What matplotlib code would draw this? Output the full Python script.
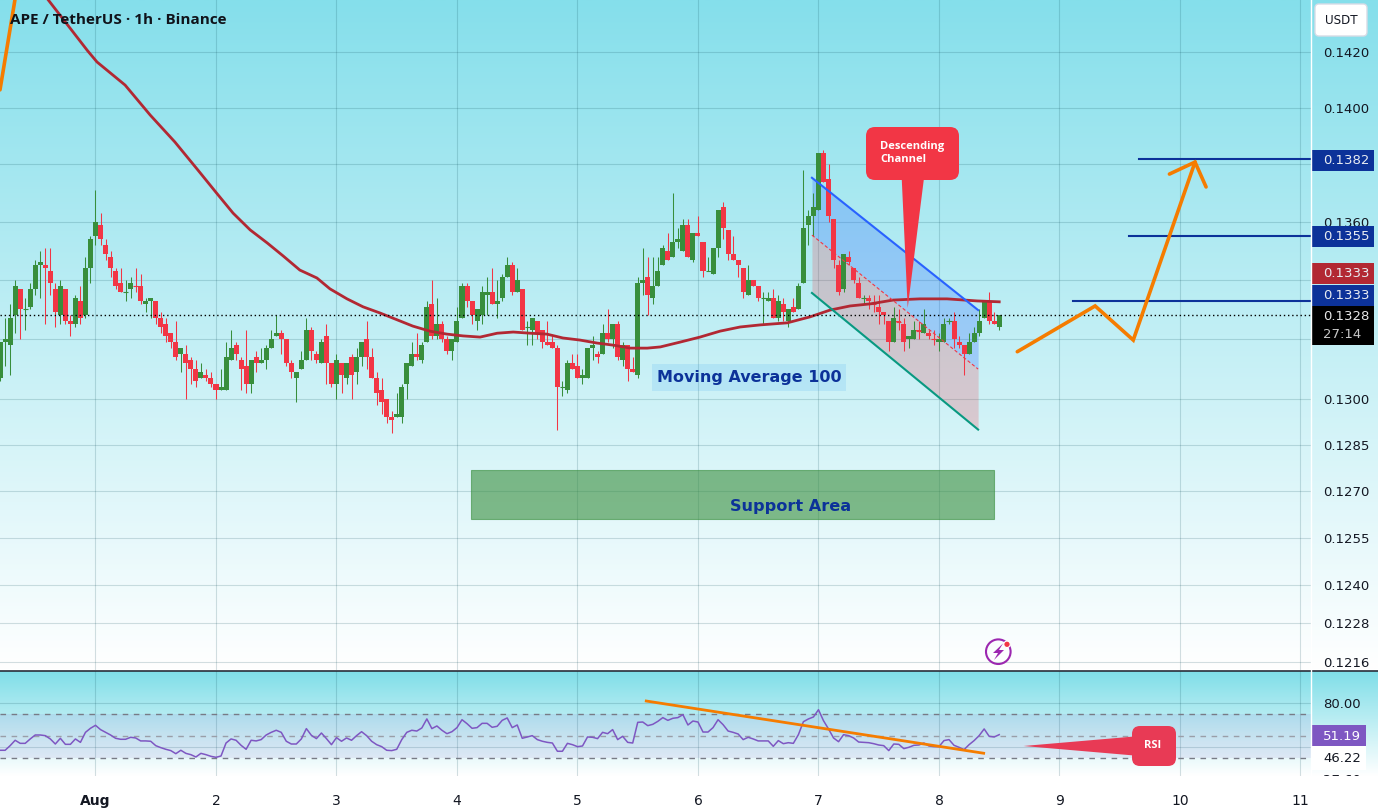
import numpy as np
import matplotlib
matplotlib.use('Agg')
import matplotlib.pyplot as plt
from matplotlib.patches import FancyBboxPatch, Rectangle, Polygon, Circle
from matplotlib.ticker import NullLocator

W, H = 1378, 811
PT = 1e-4  # candle prices below are in ticks of 0.0001

# one candle per hour, hour 0 = Aug 1 00:00
first_hour = -19
opens = [1307,1319,1318,1328,1337,1330,1331,1337,1345,1345,
         1343,1337,1328,1337,1326,1325,1333,1328,1344,1355,
         1359,1352,1348,1343,1339,1336,1337,1338,1338,1332,
         1333,1333,1327,1325,1322,1319,1315,1315,1313,1310,
         1307,1308,1307,1305,1303,1303,1313,1318,1313,1311,
         1305,1314,1312,1313,1317,1321,1322,1320,1312,1307,
         1310,1313,1323,1315,1312,1321,1312,1305,1312,1307,
         1314,1309,1314,1320,1314,1307,1303,1300,1294,1294,
         1294,1305,1311,1315,1313,1319,1332,1321,1325,1320,
         1316,1319,1327,1338,1333,1326,1328,1335,1336,1332,
         1334,1341,1345,1336,1337,1324,1323,1326,1323,1319,
         1319,1317,1304,1303,1312,1311,1307,1307,1317,1315,
         1315,1322,1320,1325,1313,1318,1310,1308,1339,1341,
         1334,1338,1345,1350,1348,1353,1350,1359,1347,1356,
         1353,1343,1342,1351,1365,1357,1349,1347,1344,1335,
         1340,1338,1334,1333,1334,1327,1332,1326,1331,1330,
         1339,1359,1362,1364,1384,1375,1361,1345,1337,1348,
         1344,1339,1334,1334,1332,1331,1329,1326,1319,1326,
         1325,1320,1320,1323,1322,1322,1320,1319,1319,1326,
         1326,1319,1318,1315,1319,1322,1327,1333,1326,1324]
closes = [1319,1320,1327,1338,1330,1330,1337,1345,1346,1344,
          1339,1329,1338,1326,1325,1334,1327,1344,1354,1360,
          1354,1349,1344,1338,1336,1336,1339,1337.9,1333,1333,
          1334,1327,1324,1321,1319,1314,1317,1312,1310,1306,
          1309,1307,1305,1303,1304,1314,1317,1315,1310,1305,
          1313,1312,1313,1317,1320,1322,1320,1312,1309,1309,
          1313,1323,1316,1313,1319,1312,1305,1313,1308,1312,
          1308,1314,1319,1314,1307,1302,1299,1294,1293,1295,
          1304,1312,1315,1314,1318,1331,1321,1325,1320,1316,
          1320,1326,1338,1333,1328,1330,1336,1336,1332,1333,
          1341,1345,1336,1340,1323,1324,1327,1322,1319,1318,
          1317,1304,1304,1312,1310,1307,1308,1317,1318,1314,
          1322,1320,1325,1314,1318,1310,1309,1339,1340,1335,
          1338,1343,1351,1347,1353,1354,1359,1348,1356,1355,
          1343,1343,1351,1364,1358,1349,1347,1345,1336,1340,
          1338,1334,1334,1334,1327,1333,1329,1330,1329,1338,
          1358,1362,1365,1384,1374,1362,1347,1336,1349,1346,
          1340,1334,1334,1333,1331.9,1329,1328,1319,1327,1325.9,
          1319,1321,1323,1322.9,1325,1321,1319.9,1320,1325,1326,
          1320,1318,1315,1319,1322,1326,1333,1326,1325,1328]
highs = [1319,1327,1332,1340,1337,1334,1339,1347,1350,1351,
         1351,1339,1340,1337,1328,1335,1338,1348,1355,1371,
         1363,1354,1350,1344,1344,1340,1341,1344,1342,1334,
         1334,1333,1329,1327,1322,1326,1317,1318,1314,1313,
         1312,1310,1309,1305,1310,1319,1323,1319,1314,1323,
         1313,1316,1317,1318,1323,1328,1323,1320,1313,1309,
         1316,1327,1324,1316,1320,1325,1312,1315,1312,1312,
         1315,1317,1319,1326,1317,1309,1307,1300,1296,1302,
         1305,1312,1319,1322,1319,1333,1340,1334,1326,1321,
         1320,1331,1339,1339,1333,1330,1338,1341,1344,1340,
         1342,1348,1346,1344,1337,1326,1327,1326,1323,1326,
         1321,1318,1306,1313,1315,1315,1310,1317,1321,1316,
         1325,1330,1325,1326,1319,1318,1314,1341,1351,1348,
         1348,1348,1352,1356,1370,1358,1361,1361,1356,1362,
         1353,1348,1351,1364,1367,1357,1355,1347,1344,1345,
         1340,1338,1336,1336,1337,1335,1334,1330,1334,1339,
         1378,1364,1370,1384,1385,1380,1361,1347,1349,1350,
         1344,1341,1335,1335,1335,1335,1329,1326,1331,1330,
         1327,1321,1326,1326,1330,1323,1323,1322,1327,1327,
         1329,1321,1318,1322,1324,1330,1333,1336,1329,1328]
lows = [1306,1311,1308,1322,1320,1323,1330,1335,1334,1325,
        1335,1324,1325,1325,1321,1324,1325,1327,1339,1352,
        1352,1347,1341,1337,1336,1333,1334,1336,1332,1329,
        1327,1325,1322,1319,1317,1313,1309,1300,1305,1304,
        1307,1306,1304,1300,1303,1303,1313,1313,1303,1302,
        1302,1309,1312,1310,1317,1321,1315,1311,1307,1299,
        1310,1313,1313,1312,1312,1305,1304,1300,1302,1305,
        1300,1305,1311,1310,1307,1298,1295,1292,1289,1294,
        1292,1300,1311,1313,1312,1319,1320,1320,1319,1315,
        1313,1319,1327,1331,1325,1323,1325,1328,1332,1327,
        1333,1341,1335,1336,1323,1318,1318,1320,1317,1318,
        1317,1290,1301,1302,1310,1307,1305,1307,1313,1312,
        1315,1319,1317,1313,1311,1306,1309,1307,1335,1328,
        1332,1338,1345,1347,1348,1351,1350,1348,1346,1355,
        1341,1343,1342,1348,1354,1347,1347,1341,1334,1335,
        1338,1333,1325,1333,1327,1326,1326,1324,1329,1330,
        1339,1352,1355,1364,1374,1360,1344,1335,1336,1345,
        1339,1334,1332,1330,1329,1325,1325,1316,1319,1323,
        1316,1317,1320,1320,1322,1320,1318,1316,1319,1325,
        1317,1317,1308,1315,1319,1321,1327,1325,1325,1323]

ma_hours = [-9.4,-1.6,0.3,5.9,10.9,15.8,20.4,24.1,27.4,30.8,34.2,37.4,40.7,44.1,46.7,50.1,53.3,
            56.7,60.1,63.2,66.6,70,73.2,76.6,80,83.2,86.6,89.9,93.1,96.5,99.9,103.1,106.5,109.9,
            112.5,116.4,120.4,124.4,128.4,132.4,137.8,142.3,146.3,150.3,154.3,158.9,164.2,169.6,175.6,180]
ma_values = [1438.9,1420.5,1416.4,1408.1,1397.4,1387.9,1378.0,1370.0,1363.0,1357.2,1352.7,1348.2,1343.4,1340.7,1337.0,
             1333.6,1330.9,1328.8,1326.5,1324.4,1322.7,1321.7,1321.1,1320.7,1322.0,1322.4,1322.0,1321.7,1320.4,1319.7,
             1318.7,1318.0,1317.0,1317.0,1317.4,1319.0,1320.7,1322.7,1324.1,1324.8,1325.5,1327.5,1329.8,1331.2,1331.9,
             1333.2,1333.6,1333.6,1332.9,1332.6]

rsi_values = [37.0,37.0,41.2,46.1,43.3,43.3,47.3,50.9,50.9,50.3,
              47.3,42.7,47.9,42.4,42.4,47.3,44.2,53.3,57.0,59.7,
              55.8,53.3,50.9,47.9,47.0,47.0,48.8,48.2,45.5,45.5,
              45.2,41.2,39.4,37.9,36.7,33.9,37.0,34.2,33.0,30.9,
              34.2,33.0,31.5,30.6,31.8,43.6,47.3,46.1,41.5,37.9,
              46.1,45.5,46.7,50.9,53.3,55.2,53.3,45.2,42.7,42.7,
              47.3,56.7,50.6,47.6,52.7,47.6,42.1,48.5,45.2,48.2,
              46.1,50.3,53.9,50.3,45.2,42.1,40.3,37.0,36.7,37.9,
              46.7,53.3,55.2,54.5,57.3,65.5,56.7,59.1,55.2,52.1,
              53.9,57.6,64.8,61.2,57.0,57.6,61.5,61.5,57.9,58.8,
              64.2,66.4,57.6,60.0,47.9,49.1,50.3,46.7,45.2,44.2,
              43.6,36.1,36.1,43.3,42.1,40.3,40.9,49.1,48.8,47.6,
              53.3,52.1,55.8,46.7,49.7,44.2,43.6,62.4,62.7,59.4,
              60.6,63.3,66.7,64.2,66.1,66.7,69.4,60.0,63.6,62.7,
              53.6,53.6,57.6,64.8,60.3,54.5,53.3,51.8,46.7,48.8,
              47.3,45.5,45.5,45.5,40.6,45.8,43.0,43.9,43.3,51.2,
              63.0,65.5,67.3,73.9,63.9,56.4,48.2,44.8,51.2,50.3,
              48.2,44.5,44.2,43.9,43.0,41.8,41.2,36.7,42.7,42.4,
              38.5,39.7,41.5,41.8,43.6,40.9,40.3,40.3,45.8,46.7,
              41.5,39.7,37.6,42.1,45.8,50.3,56.4,49.7,49.1,51.2]

day_hours = [0,24,48,72,96,120,144,168,192,216,240]
day_labels = ['Aug','2','3','4','5','6','7','8','9','10','11']
price_ticks = [1420,1400,1380,1360,1340,1320,1300,1285,1270,1255,1240,1228,1216]
# these three sit behind the price tags in the reference
covered_ticks = [1380,1340,1320]
last_price = 1328
target_prices = [1382,1355,1333]
target_starts = [207.9,205.9,194.6]

channel_hours = [142.7,175.8]
channel_top = [1375.3,1329.8]
channel_mid = [1355.4,1310.0]
channel_low = [1335.6,1290.0]
support_hours = [74.8,179.0]
support_prices = [1261.0,1276.8]
path_hours = [183.6,199.1,206.7,219.0]
path_prices = [1315.8,1331.2,1319.7,1380.8]
head_hours = [213.9,219.0,221.2]
head_prices = [1376.6,1380.8,1372.1]
old_hours = [-19.02,-16.05]
old_prices = [1406.4,1438.9]
rsi_trend_hours = [109.7,176.9]
rsi_trend_values = [81.8,34.3]

GREEN, RED, NAVY = '#388e3c', '#f23645', '#0c3299'
ORANGE, MA_RED, GRID = '#f57c00', '#b22833', '#00404d'

hours = first_hour + np.arange(len(opens))
o, c, hi, lo = [np.array(v) * PT for v in (opens, closes, highs, lows)]
up = c >= o


def pan(y0, y1):
    # figure fraction box for a band of pixel rows
    return [0, 1 - y1 / H, 1311 / W, (y1 - y0) / H]


fig = plt.figure(figsize=(W / 100, H / 100), dpi=100, facecolor='white')
plt.rcParams['font.family'] = 'DejaVu Sans'

# backgrounds
bg = fig.add_axes([0, 0, 1, 1], zorder=0)
bg.set_xlim(0, W)
bg.set_ylim(H, 0)
bg.axis('off')
grad = np.linspace(0, 1, 256)[:, None]
for top, bot, rgb in [(0, 670, (133, 223, 235)), (671, 776, (127, 222, 232))]:
    img = np.zeros((256, 1, 3))
    for k in range(3):
        img[:, :, k] = (rgb[k] + (255 - rgb[k]) * grad) / 255
    bg.imshow(img, extent=[0, W, bot, top], aspect='auto', interpolation='bilinear')
bg.set_xlim(0, W)
bg.set_ylim(H, 0)

# price panel
ax = fig.add_axes(pan(0, 670), zorder=1)
ax.patch.set_alpha(0)
ax.set_yscale('log')
ax.set_xlim(-19.02, 242.1)
ax.set_ylim(0.12135, 0.14389)
ax.grid(True, color=GRID, alpha=0.17, lw=0.8)
ax.set_axisbelow(True)
ax.set_xticks(day_hours)
ax.tick_params(axis='x', length=0, labelbottom=False)
ax.yaxis.tick_right()
ax.yaxis.set_minor_locator(NullLocator())
ax.set_yticks(np.array(price_ticks) * PT)
ax.set_yticklabels(['' if p in covered_ticks else '%.4f' % (p * PT) for p in price_ticks])
ax.tick_params(axis='y', length=0, pad=8.5, labelsize=9.5, labelcolor='#131722')
for s in ax.spines.values():
    s.set_visible(False)

# channel and support go under the candles
ch = np.array(channel_hours)
ax.fill_between(ch, np.array(channel_mid) * PT, np.array(channel_top) * PT, color='#2962ff', alpha=0.25, lw=0, zorder=2)
ax.fill_between(ch, np.array(channel_low) * PT, np.array(channel_mid) * PT, color=RED, alpha=0.22, lw=0, zorder=2)
ax.fill_between(support_hours, support_prices[0] * PT, support_prices[1] * PT, color=GREEN, alpha=0.6, lw=0.8, zorder=2)

colors = np.where(up, GREEN, RED)
ax.vlines(hours, lo, hi, colors=colors, lw=0.75, zorder=3)
ax.bar(hours, np.abs(c - o), bottom=np.minimum(o, c), width=1.0, color=colors, lw=0, zorder=3)
flat = np.abs(c - o) < 0.5 * PT
ax.hlines(c[flat], hours[flat] - 0.5, hours[flat] + 0.5, colors=colors[flat], lw=0.8, zorder=3)

ax.plot(ma_hours, np.array(ma_values) * PT, color=MA_RED, lw=2, zorder=4)
ax.axhline(last_price * PT, color='black', lw=1, ls=(0, (1, 2)), zorder=4)

ax.plot(ch, np.array(channel_top) * PT, color='#2962ff', lw=1.5, zorder=5)
ax.plot(ch, np.array(channel_mid) * PT, color=RED, lw=0.8, ls=(0, (3, 2)), zorder=5)
ax.plot(ch, np.array(channel_low) * PT, color='#089981', lw=1.5, zorder=5)

for price, start in zip(target_prices, target_starts):
    ax.plot([start, 242.1], [price * PT, price * PT], color=NAVY, lw=1.5, zorder=5)
for xs, ys in [(path_hours, path_prices), (head_hours, head_prices), (old_hours, old_prices)]:
    ax.plot(xs, np.array(ys) * PT, color=ORANGE, lw=2.6, solid_capstyle='round', solid_joinstyle='miter', zorder=6)

# rsi panel
rs = fig.add_axes(pan(671, 776), zorder=1)
rs.patch.set_alpha(0)
rs.set_xlim(-19.02, 242.1)
rs.set_ylim(13.6, 109.1)
rs.set_xticks(day_hours)
rs.set_xticklabels(day_labels)
rs.get_xticklabels()[0].set_fontweight('bold')
rs.tick_params(axis='x', length=0, pad=13, labelsize=10, labelcolor='#131722')
rs.yaxis.tick_right()
rs.set_yticks([80, 40])
rs.set_yticklabels(['80.00', ''])
rs.tick_params(axis='y', length=0, pad=8.5, labelsize=9.5, labelcolor='#131722')
rs.grid(True, color=GRID, alpha=0.17, lw=0.8)
rs.set_axisbelow(True)
for s in rs.spines.values():
    s.set_visible(False)
rs.axhspan(30, 70, color='#7e57c2', alpha=0.1, lw=0)
for level, col in [(70, '#787b86'), (50, '#9a9ea8'), (30, '#787b86')]:
    rs.axhline(level, color=col, lw=1, ls=(0, (4, 4)))
rs.plot(hours, rsi_values, color='#7e57c2', lw=1.1, zorder=4)
rs.plot(rsi_trend_hours, rsi_trend_values, color=ORANGE, lw=2, zorder=5)

# labels, callouts and the axis furniture, in pixel coordinates
ov = fig.add_axes([0, 0, 1, 1], zorder=3)
ov.set_xlim(0, W)
ov.set_ylim(H, 0)
ov.axis('off')

ov.plot([0, W], [670.5, 670.5], color='#2a2e39', lw=1.2)
ov.plot([1311, 1311], [0, 776], color='white', lw=1)

ov.text(10, 20, 'APE / TetherUS · 1h · Binance', fontsize=11, fontfamily='Open Sans', fontweight='bold', color='#10131a', va='center')

ov.add_patch(FancyBboxPatch((1318, 7), 46, 26, boxstyle='round,pad=3,rounding_size=4', fc='white', ec='#d8dce6', lw=1))
ov.text(1341, 20, 'USDT', fontsize=8.6, color='#131722', ha='center', va='center')

for label, y0, y1, col in [('0.1382', 150, 171, NAVY), ('0.1355', 226, 247, NAVY),
                           ('0.1333', 263, 284, MA_RED), ('0.1333', 285, 306, NAVY)]:
    ov.add_patch(Rectangle((1312, y0), 62, y1 - y0, fc=col, ec='none'))
    ov.text(1323, (y0 + y1) / 2, label, fontsize=9.5, color='#e8ecf2', va='center')
ov.add_patch(Rectangle((1312, 306), 62, 39, fc='black', ec='none'))
ov.text(1323, 317, '0.1328', fontsize=9.5, color='#e8e8e8', va='center')
ov.text(1323, 335, '27:14', fontsize=9.5, color='#c8c8c8', va='center')

ov.add_patch(Rectangle((1312, 746), 54, 24, fc='white', ec='none'))
ov.text(1323, 758, '46.22', fontsize=9.5, color='#131722', va='center')
# only the top of this label shows above the time axis
t = ov.text(1323, 780, '27.60', fontsize=9.5, color='#131722', va='center', clip_on=True)
t.set_clip_path(Rectangle((1312, 770), 60, 6, transform=ov.transData))
ov.add_patch(Rectangle((1312, 725), 54, 21, fc='#7e57c2', ec='none'))
ov.text(1323, 736, '51.19', fontsize=9.5, color='white', va='center')

ov.add_patch(Rectangle((652, 364), 194, 27, fc='#2196f3', alpha=0.13, ec='none'))
ov.text(749, 377.5, 'Moving Average 100', fontsize=11.5, fontweight='bold', color=NAVY, ha='center', va='center')
ov.text(791, 506, 'Support Area', fontsize=11.6, fontweight='bold', color=NAVY, ha='center', va='center')

# descending channel callout
ov.add_patch(Polygon([(901.7, 178), (924, 178), (907.7, 308)], fc=RED, ec='none'))
ov.add_patch(FancyBboxPatch((873, 134), 79, 39, boxstyle='round,pad=7,rounding_size=9', fc=RED, ec='none'))
ov.text(880, 146, 'Descending', fontsize=8, fontfamily='Open Sans', color='white', fontweight='bold', va='center')
ov.text(880, 159, 'Channel', fontsize=8, fontfamily='Open Sans', color='white', fontweight='bold', va='center')

# rsi callout
ov.add_patch(Polygon([(1023.5, 746), (1140, 736), (1140, 756)], fc='#e83a55', ec='none'))
ov.add_patch(FancyBboxPatch((1139, 733), 30, 26, boxstyle='round,pad=7,rounding_size=8', fc='#e83a55', ec='none'))
ov.text(1153, 746, 'RSI', fontsize=8, fontfamily='Open Sans', color='white', fontweight='bold', ha='center', va='center')

# small bolt badge
ov.add_patch(Circle((998.3, 651.7), 12.3, fc='none', ec='#9c27b0', lw=1.5))
ov.add_patch(Polygon([(1003, 643.5), (993, 653), (998, 653), (994, 660), (1004, 650), (999, 650)], fc='#9c27b0', ec='none'))
ov.add_patch(Circle((1007, 644.3), 3.2, fc='#f23645', ec='white', lw=0.8))

fig.savefig('out.png', dpi=100)
